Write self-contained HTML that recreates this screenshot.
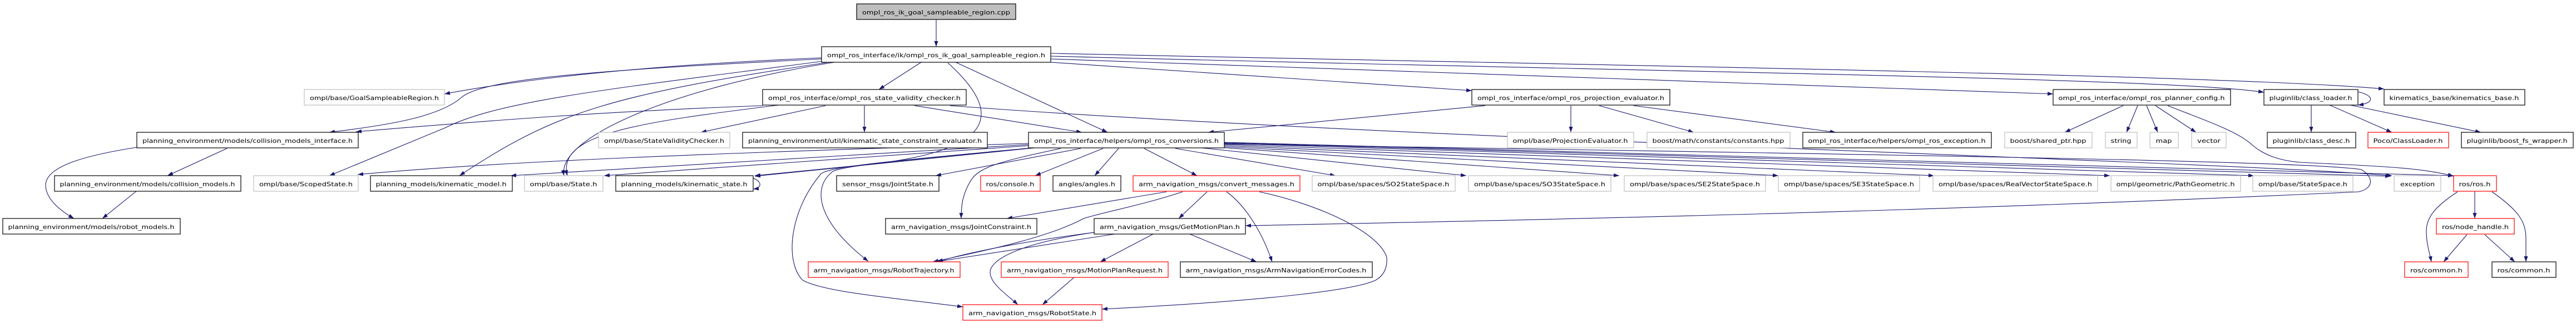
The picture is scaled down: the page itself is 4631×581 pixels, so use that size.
<!DOCTYPE html>
<html><head><meta charset="utf-8"><style>
html,body{margin:0;padding:0;background:#fff;}
svg{display:block;}
text{font-family:"DejaVu Sans","Liberation Sans",sans-serif;font-size:11px;fill:#000;text-anchor:middle;}
.k{fill:#fff;stroke:#000;stroke-width:1.2}
.g{fill:#fff;stroke:#bfbfbf;stroke-width:1.2}
.r{fill:#fff;stroke:#ff0000;stroke-width:1.2}
.e{fill:none;stroke:#191970;stroke-width:1.1;marker-end:url(#a)}
</style></head><body>
<svg width="4631" height="581" viewBox="0 0 4631 581" xmlns="http://www.w3.org/2000/svg">
<defs><marker id="a" markerUnits="userSpaceOnUse" markerWidth="11" markerHeight="8" refX="10" refY="3.5" orient="auto"><path d="M0,0 L10,3.5 L0,7 z" fill="#191970"/></marker></defs>
<g>
<path class="e" d="M1683 35 L1683 84"/>
<path class="e" d="M1477 104 C1100 120,900 150,799 169"/>
<path class="e" d="M1477 106 C1100 125,870 140,830 175 S700 225,592 238"/>
<path class="e" d="M1371 190 C1100 200,900 215,640 237"/>
<path class="e" d="M1480 110 C1100 160,900 180,800 230 L592 316"/>
<path class="e" d="M1490 112 C1100 170,1000 200,826 316"/>
<path class="e" d="M1500 112 C1200 160,1000 250,1014 316"/>
<path class="e" d="M1400 189 C1150 220,1000 240,1020 316"/>
<path class="e" d="M1656 112 L1580 161"/>
<path class="e" d="M1718 112 L1991 238"/>
<path class="e" d="M1704 113 C1800 200,1800 270,1560 296 L1357 316"/>
<path class="e" d="M1889 112 L2646 163"/>
<path class="e" d="M1889 106 L3691 169"/>
<path class="e" d="M1889 101 C3000 130,3900 140,4070 166"/>
<path class="e" d="M1889 96 C3000 120,4000 135,4286 160"/>
<path class="e" d="M1484 190 L1260 238"/>
<path class="e" d="M1554 190 L1554 238"/>
<path class="e" d="M1644 190 L1945 238"/>
<path class="e" d="M1708 190 C2500 250,4000 290,4300 316"/>
<path class="e" d="M2670 190 L2172 238"/>
<path class="e" d="M2824 190 L2824 238"/>
<path class="e" d="M2875 190 L3045 238"/>
<path class="e" d="M2937 190 L3300 238"/>
<path class="e" d="M3817 190 L3712 238"/>
<path class="e" d="M3843 190 L3823 238"/>
<path class="e" d="M3859 190 L3879 238"/>
<path class="e" d="M3875 190 L3948 238"/>
<path class="e" d="M3897 190 C3960 215,4020 235,4047 259 C4070 280,4100 289,4135 292 C4250 298,4350 300,4411 317"/>
<path class="e" d="M4209 161 C4270 165,4275 185,4239 189"/>
<path class="e" d="M4155 189 L4155 238"/>
<path class="e" d="M4188 189 L4300 238"/>
<path class="e" d="M4225 189 L4460 238"/>
<path class="e" d="M1849 260 L918 316"/>
<path class="e" d="M1849 262 L1086 316"/>
<path class="e" d="M1860 266 L1357 317"/>
<path class="e" d="M1849 258 C1300 275,900 290,643 314"/>
<path class="e" d="M1943 267 L1682 316"/>
<path class="e" d="M1907 267 C1800 290,1760 300,1745 325 C1730 350,1728 370,1728 393"/>
<path class="e" d="M1983 267 L1861 316"/>
<path class="e" d="M2011 267 L1968 316"/>
<path class="e" d="M2057 267 L2152 316"/>
<path class="e" d="M2113 267 L2401 316"/>
<path class="e" d="M2160 266 L2636 316"/>
<path class="e" d="M2190 265 L2911 316"/>
<path class="e" d="M2201 264 L3197 316"/>
<path class="e" d="M2201 262 L3477 316"/>
<path class="e" d="M2201 260 L3793 316"/>
<path class="e" d="M2201 258 L4052 316"/>
<path class="e" d="M2201 257 L4298 317"/>
<path class="e" d="M2201 256 L4411 316"/>
<path class="e" d="M1860 266 C1600 290,1500 300,1494 311 C1460 340,1470 400,1561 470"/>
<path class="e" d="M1855 266 C1600 290,1480 300,1474 315 C1420 380,1410 470,1443 504 C1480 525,1600 535,1731 552"/>
<path class="e" d="M2201 259 C3500 280,4150 290,4245 305 C4270 320,4265 340,4240 345 C3500 380,2800 395,2239 406"/>
<path class="e" d="M2097 345 L1810 393"/>
<path class="e" d="M2126 345 C2050 370,1990 380,1948 393 C1880 430,1750 455,1677 471"/>
<path class="e" d="M2170 345 L2119 393"/>
<path class="e" d="M2205 345 C2240 370,2270 420,2287 471"/>
<path class="e" d="M2264 345 C2380 370,2480 420,2493 463 C2495 490,2480 500,2473 504 C2440 520,2300 540,1981 556"/>
<path class="e" d="M1967 418 C1800 440,1720 460,1685 471"/>
<path class="e" d="M2004 421 L1682 471"/>
<path class="e" d="M2073 421 L1978 471"/>
<path class="e" d="M2139 421 L2259 471"/>
<path class="e" d="M1967 418 C1820 440,1780 470,1780 490 C1780 510,1810 530,1830 548"/>
<path class="e" d="M1931 499 L1874 548"/>
<path class="e" d="M408 267 L301 316"/>
<path class="e" d="M246 265 C150 280,80 300,82 335 C84 360,110 380,133 393"/>
<path class="e" d="M245 344 L184 393"/>
<path class="e" d="M4449 344 L4449 393"/>
<path class="e" d="M4418 345 C4380 370,4362 390,4362 415 C4362 440,4368 455,4371 471"/>
<path class="e" d="M4480 345 C4530 380,4541 400,4541 430 L4541 471"/>
<path class="e" d="M4435 422 L4393 471"/>
<path class="e" d="M4467 422 L4521 471"/>
<path class="e" d="M1330 316 C1370 318,1375 338,1354 340"/>
</g>
<g>
<rect x="1540" y="7" width="286" height="28" fill="#bfbfbf" stroke="#000" stroke-width="1.2"/><text x="1683" y="26" textLength="266" lengthAdjust="spacingAndGlyphs">ompl_ros_ik_goal_sampleable_region.cpp</text>
<rect class="k" x="1477" y="84" width="412" height="28"/><text x="1683" y="103" textLength="392" lengthAdjust="spacingAndGlyphs">ompl_ros_interface/ik/ompl_ros_ik_goal_sampleable_region.h</text>
<rect class="g" x="547" y="161" width="252" height="28"/><text x="673" y="180" textLength="232" lengthAdjust="spacingAndGlyphs">ompl/base/GoalSampleableRegion.h</text>
<rect class="k" x="246" y="238" width="398" height="28"/><text x="445" y="257" textLength="378" lengthAdjust="spacingAndGlyphs">planning_environment/models/collision_models_interface.h</text>
<rect class="k" x="98" y="316" width="335" height="28"/><text x="265" y="335" textLength="315" lengthAdjust="spacingAndGlyphs">planning_environment/models/collision_models.h</text>
<rect class="g" x="456" y="316" width="188" height="28"/><text x="550" y="335" textLength="168" lengthAdjust="spacingAndGlyphs">ompl/base/ScopedState.h</text>
<rect class="k" x="666" y="316" width="255" height="28"/><text x="793" y="335" textLength="235" lengthAdjust="spacingAndGlyphs">planning_models/kinematic_model.h</text>
<rect class="k" x="5" y="393" width="319" height="28"/><text x="164" y="412" textLength="299" lengthAdjust="spacingAndGlyphs">planning_environment/models/robot_models.h</text>
<rect class="k" x="1371" y="161" width="366" height="28"/><text x="1554" y="180" textLength="346" lengthAdjust="spacingAndGlyphs">ompl_ros_interface/ompl_ros_state_validity_checker.h</text>
<rect class="g" x="1076" y="238" width="236" height="28"/><text x="1194" y="257" textLength="216" lengthAdjust="spacingAndGlyphs">ompl/base/StateValidityChecker.h</text>
<rect class="k" x="1335" y="238" width="440" height="28"/><text x="1555" y="257" textLength="420" lengthAdjust="spacingAndGlyphs">planning_environment/util/kinematic_state_constraint_evaluator.h</text>
<rect class="g" x="943" y="316" width="141" height="28"/><text x="1013" y="335" textLength="121" lengthAdjust="spacingAndGlyphs">ompl/base/State.h</text>
<rect class="k" x="1107" y="316" width="247" height="28"/><text x="1230" y="335" textLength="227" lengthAdjust="spacingAndGlyphs">planning_models/kinematic_state.h</text>
<rect class="k" x="1504" y="316" width="184" height="28"/><text x="1596" y="335" textLength="164" lengthAdjust="spacingAndGlyphs">sensor_msgs/JointState.h</text>
<rect class="r" x="1453" y="471" width="273" height="28"/><text x="1589" y="490" textLength="253" lengthAdjust="spacingAndGlyphs">arm_navigation_msgs/RobotTrajectory.h</text>
<rect class="k" x="1849" y="238" width="352" height="28"/><text x="2025" y="257" textLength="332" lengthAdjust="spacingAndGlyphs">ompl_ros_interface/helpers/ompl_ros_conversions.h</text>
<rect class="r" x="1763" y="316" width="107" height="28"/><text x="1816" y="335" textLength="87" lengthAdjust="spacingAndGlyphs">ros/console.h</text>
<rect class="k" x="1893" y="316" width="122" height="28"/><text x="1954" y="335" textLength="102" lengthAdjust="spacingAndGlyphs">angles/angles.h</text>
<rect class="r" x="2037" y="316" width="300" height="28"/><text x="2187" y="335" textLength="280" lengthAdjust="spacingAndGlyphs">arm_navigation_msgs/convert_messages.h</text>
<rect class="g" x="2359" y="316" width="257" height="28"/><text x="2487" y="335" textLength="237" lengthAdjust="spacingAndGlyphs">ompl/base/spaces/SO2StateSpace.h</text>
<rect class="k" x="1592" y="393" width="272" height="28"/><text x="1728" y="412" textLength="252" lengthAdjust="spacingAndGlyphs">arm_navigation_msgs/JointConstraint.h</text>
<rect class="k" x="1967" y="393" width="272" height="28"/><text x="2103" y="412" textLength="252" lengthAdjust="spacingAndGlyphs">arm_navigation_msgs/GetMotionPlan.h</text>
<rect class="r" x="1800" y="471" width="300" height="28"/><text x="1950" y="490" textLength="280" lengthAdjust="spacingAndGlyphs">arm_navigation_msgs/MotionPlanRequest.h</text>
<rect class="k" x="2122" y="471" width="345" height="28"/><text x="2294" y="490" textLength="325" lengthAdjust="spacingAndGlyphs">arm_navigation_msgs/ArmNavigationErrorCodes.h</text>
<rect class="r" x="1731" y="548" width="250" height="28"/><text x="1856" y="567" textLength="230" lengthAdjust="spacingAndGlyphs">arm_navigation_msgs/RobotState.h</text>
<rect class="k" x="2646" y="161" width="356" height="28"/><text x="2824" y="180" textLength="336" lengthAdjust="spacingAndGlyphs">ompl_ros_interface/ompl_ros_projection_evaluator.h</text>
<rect class="g" x="2710" y="238" width="227" height="28"/><text x="2823" y="257" textLength="207" lengthAdjust="spacingAndGlyphs">ompl/base/ProjectionEvaluator.h</text>
<rect class="g" x="2961" y="238" width="257" height="28"/><text x="3089" y="257" textLength="237" lengthAdjust="spacingAndGlyphs">boost/math/constants/constants.hpp</text>
<rect class="g" x="2640" y="316" width="256" height="28"/><text x="2768" y="335" textLength="236" lengthAdjust="spacingAndGlyphs">ompl/base/spaces/SO3StateSpace.h</text>
<rect class="g" x="2920" y="316" width="254" height="28"/><text x="3047" y="335" textLength="234" lengthAdjust="spacingAndGlyphs">ompl/base/spaces/SE2StateSpace.h</text>
<rect class="k" x="3241" y="238" width="339" height="28"/><text x="3410" y="257" textLength="319" lengthAdjust="spacingAndGlyphs">ompl_ros_interface/helpers/ompl_ros_exception.h</text>
<rect class="g" x="3604" y="238" width="157" height="28"/><text x="3682" y="257" textLength="137" lengthAdjust="spacingAndGlyphs">boost/shared_ptr.hpp</text>
<rect class="g" x="3785" y="238" width="57" height="28"/><text x="3813" y="257" textLength="37" lengthAdjust="spacingAndGlyphs">string</text>
<rect class="g" x="3865" y="238" width="51" height="28"/><text x="3890" y="257" textLength="29" lengthAdjust="spacingAndGlyphs">map</text>
<rect class="k" x="3691" y="161" width="319" height="28"/><text x="3850" y="180" textLength="299" lengthAdjust="spacingAndGlyphs">ompl_ros_interface/ompl_ros_planner_config.h</text>
<rect class="g" x="3197" y="316" width="254" height="28"/><text x="3324" y="335" textLength="234" lengthAdjust="spacingAndGlyphs">ompl/base/spaces/SE3StateSpace.h</text>
<rect class="g" x="3475" y="316" width="296" height="28"/><text x="3623" y="335" textLength="276" lengthAdjust="spacingAndGlyphs">ompl/base/spaces/RealVectorStateSpace.h</text>
<rect class="g" x="3795" y="316" width="233" height="28"/><text x="3911" y="335" textLength="213" lengthAdjust="spacingAndGlyphs">ompl/geometric/PathGeometric.h</text>
<rect class="g" x="3940" y="238" width="62" height="28"/><text x="3971" y="257" textLength="42" lengthAdjust="spacingAndGlyphs">vector</text>
<rect class="k" x="4070" y="161" width="169" height="28"/><text x="4154" y="180" textLength="149" lengthAdjust="spacingAndGlyphs">pluginlib/class_loader.h</text>
<rect class="k" x="4286" y="161" width="253" height="28"/><text x="4412" y="180" textLength="233" lengthAdjust="spacingAndGlyphs">kinematics_base/kinematics_base.h</text>
<rect class="k" x="4076" y="238" width="159" height="28"/><text x="4155" y="257" textLength="139" lengthAdjust="spacingAndGlyphs">pluginlib/class_desc.h</text>
<rect class="r" x="4257" y="238" width="145" height="28"/><text x="4329" y="257" textLength="125" lengthAdjust="spacingAndGlyphs">Poco/ClassLoader.h</text>
<rect class="k" x="4425" y="238" width="201" height="28"/><text x="4525" y="257" textLength="181" lengthAdjust="spacingAndGlyphs">pluginlib/boost_fs_wrapper.h</text>
<rect class="g" x="4050" y="316" width="180" height="28"/><text x="4140" y="335" textLength="160" lengthAdjust="spacingAndGlyphs">ompl/base/StateSpace.h</text>
<rect class="g" x="4304" y="316" width="84" height="28"/><text x="4346" y="335" textLength="62" lengthAdjust="spacingAndGlyphs">exception</text>
<rect class="r" x="4411" y="316" width="77" height="28"/><text x="4449" y="335" textLength="57" lengthAdjust="spacingAndGlyphs">ros/ros.h</text>
<rect class="r" x="4380" y="393" width="140" height="28"/><text x="4450" y="412" textLength="120" lengthAdjust="spacingAndGlyphs">ros/node_handle.h</text>
<rect class="r" x="4323" y="471" width="114" height="28"/><text x="4380" y="490" textLength="94" lengthAdjust="spacingAndGlyphs">ros/common.h</text>
<rect class="k" x="4480" y="471" width="115" height="28"/><text x="4537" y="490" textLength="95" lengthAdjust="spacingAndGlyphs">ros/common.h</text>
</g>
</svg>
</body></html>
